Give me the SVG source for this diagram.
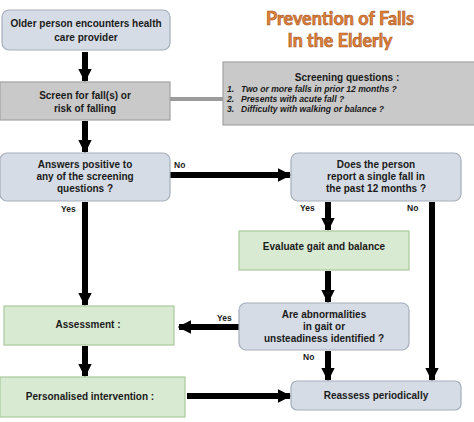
<svg xmlns="http://www.w3.org/2000/svg" width="474" height="422" viewBox="0 0 474 422">
<defs>
<style>
.blue{fill:#d6dce5;stroke:#a6aebb;stroke-width:1.2}
.gray{fill:#c9c9c9;stroke:#a3a3a3;stroke-width:1.2}
.green{fill:#d9ead3;stroke:#a9c99c;stroke-width:1.2}
.t{font-family:"Liberation Sans",Arial,sans-serif;font-size:10px;font-weight:bold;fill:#1a1a1a;text-anchor:middle}
.q{font-family:"Liberation Sans",Arial,sans-serif;font-size:8.6px;font-weight:bold;font-style:italic;fill:#1a1a1a}
.lbl{font-family:"Liberation Sans",Arial,sans-serif;font-size:8.5px;font-weight:bold;fill:#1a1a1a}
.title{font-family:Lato,"Liberation Sans",sans-serif;font-size:18px;font-weight:bold;fill:#e5833a;stroke:#a0521c;stroke-width:0.6;text-anchor:middle}
.ln{stroke:#000;stroke-width:6;fill:none}
</style>
<marker id="ah" viewBox="0 0 10 10" refX="9" refY="5" markerWidth="2.3" markerHeight="2.3" orient="auto" markerUnits="strokeWidth">
<path d="M0,0 L10,5 L0,10 z" fill="#000"/>
</marker>
</defs>
<rect width="474" height="422" fill="#fff"/>
<g id="title">
<text class="title" x="340" y="25" textLength="148" lengthAdjust="spacingAndGlyphs">Prevention of Falls</text>
<text class="title" x="340" y="47" textLength="105" lengthAdjust="spacingAndGlyphs">In the Elderly</text>
</g>
<g id="connectors">
<line x1="170" y1="99" x2="223" y2="99" stroke="#9c9c9c" stroke-width="4"/>
<line class="ln" x1="85" y1="52" x2="85" y2="81" marker-end="url(#ah)"/>
<line class="ln" x1="85" y1="121" x2="85" y2="152" marker-end="url(#ah)"/>
<line class="ln" x1="85" y1="202" x2="85" y2="305" marker-end="url(#ah)"/>
<line class="ln" x1="170" y1="175" x2="290" y2="175" marker-end="url(#ah)"/>
<line class="ln" x1="328" y1="202" x2="328" y2="230" marker-end="url(#ah)"/>
<line class="ln" x1="432" y1="202" x2="432" y2="380" marker-end="url(#ah)"/>
<line class="ln" x1="328" y1="271" x2="328" y2="302" marker-end="url(#ah)"/>
<line class="ln" x1="239" y1="327" x2="179" y2="327" marker-end="url(#ah)"/>
<line class="ln" x1="328" y1="351" x2="328" y2="380" marker-end="url(#ah)"/>
<line class="ln" x1="85" y1="346" x2="85" y2="376" marker-end="url(#ah)"/>
<line class="ln" x1="187" y1="396" x2="290" y2="396" marker-end="url(#ah)"/>
<text class="lbl" x="174" y="168">No</text>
<text class="lbl" x="61" y="212">Yes</text>
<text class="lbl" x="300" y="211">Yes</text>
<text class="lbl" x="407" y="211">No</text>
<text class="lbl" x="217" y="321">Yes</text>
<text class="lbl" x="303" y="360">No</text>
</g>
<g id="n1">
<rect class="blue" x="2" y="10" width="168" height="40" rx="7"/>
<text class="t" x="86" y="27">Older person encounters health</text>
<text class="t" x="86" y="41">care provider</text>
</g>
<g id="n2">
<rect class="gray" x="0" y="82" width="170" height="38"/>
<text class="t" x="85" y="99">Screen for fall(s) or</text>
<text class="t" x="85" y="112">risk of falling</text>
</g>
<g id="screening">
<rect class="gray" x="223" y="62" width="252" height="63" fill="#d0d0d0"/>
<text class="t" x="347" y="81">Screening questions :</text>
<text class="q" x="227" y="92">1.</text>
<text class="q" x="241" y="92">Two or more falls in prior 12 months ?</text>
<text class="q" x="227" y="102">2.</text>
<text class="q" x="241" y="102">Presents with acute fall ?</text>
<text class="q" x="227" y="112">3.</text>
<text class="q" x="241" y="112">Difficulty with walking or balance ?</text>
</g>
<g id="n3">
<rect class="blue" x="0" y="153" width="170" height="48" rx="7"/>
<text class="t" x="85" y="168">Answers positive to</text>
<text class="t" x="85" y="180">any of the screening</text>
<text class="t" x="85" y="192">questions ?</text>
</g>
<g id="n4">
<rect class="blue" x="291" y="153" width="170" height="48" rx="7"/>
<text class="t" x="376" y="168">Does the person</text>
<text class="t" x="376" y="180">report a single fall in</text>
<text class="t" x="376" y="192">the past 12 months ?</text>
</g>
<g id="n5">
<rect class="green" x="239" y="231" width="170" height="39"/>
<text class="t" x="324" y="250">Evaluate gait and balance</text>
</g>
<g id="n6">
<rect class="blue" x="239" y="303" width="170" height="47" rx="7"/>
<text class="t" x="324" y="318">Are abnormalities</text>
<text class="t" x="324" y="330">in gait or</text>
<text class="t" x="324" y="342">unsteadiness identified ?</text>
</g>
<g id="n7">
<rect class="green" x="4" y="306" width="170" height="39"/>
<text class="t" x="88" y="328">Assessment :</text>
</g>
<g id="n8">
<rect class="green" x="0" y="377" width="185" height="40"/>
<text class="t" x="90" y="400">Personalised intervention :</text>
</g>
<g id="n9">
<rect class="blue" x="291" y="381" width="170" height="29" rx="6"/>
<text class="t" x="376" y="399">Reassess periodically</text>
</g>
</svg>
